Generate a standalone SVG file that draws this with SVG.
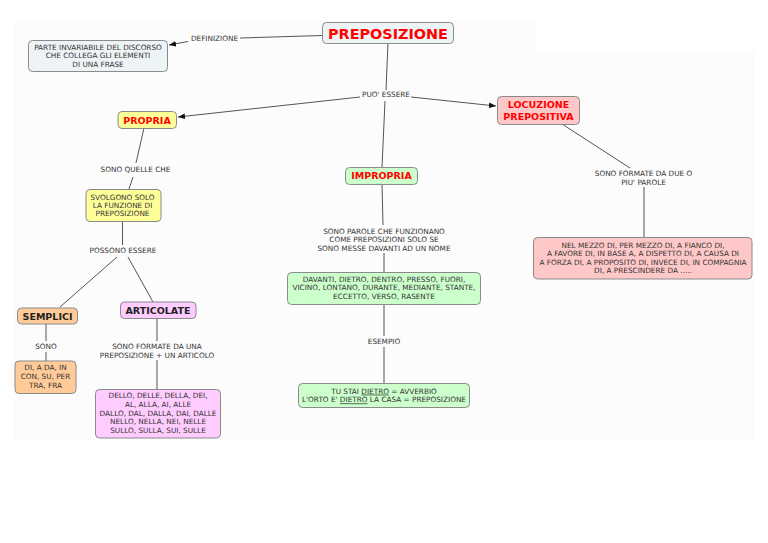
<svg xmlns="http://www.w3.org/2000/svg" width="768" height="543" viewBox="0 0 768 543">
<defs>
<marker id="arr" viewBox="0 0 10 10" refX="10" refY="5" markerWidth="7" markerHeight="7" orient="auto" markerUnits="userSpaceOnUse"><path d="M0,1 L10,5 L0,9 z" fill="#111"/></marker>
<style>
.bg{fill:#fcfcfc}
.box{stroke:#8a8a8a;stroke-width:1}
.t{font-family:"DejaVu Sans",Verdana,sans-serif;font-size:7.3px;fill:#333;text-anchor:middle}
.h{font-family:"DejaVu Sans",Verdana,sans-serif;font-weight:bold;font-size:9.5px;fill:#f00;text-anchor:middle}
.hd{font-family:"DejaVu Sans",Verdana,sans-serif;font-weight:bold;font-size:9.5px;fill:#222;text-anchor:middle}
.c{stroke:#555;stroke-width:1;fill:none}
.blue{fill:#eef3f6}.yel{fill:#ffff99}.pink{fill:#ffc8c8}.green{fill:#ccffcc}.orange{fill:#ffcc99}.viol{fill:#ffccff}
</style>
</defs>
<rect width="768" height="543" fill="#fff"/>
<rect class="bg" x="14" y="20" width="521" height="30"/>
<rect class="bg" x="14" y="50" width="740" height="390"/>

<g id="connectors">
<line class="c" x1="322" y1="35.5" x2="240" y2="38"/>
<line class="c" x1="188" y1="41.5" x2="169" y2="45" marker-end="url(#arr)"/>
<line class="c" x1="388" y1="43" x2="386" y2="90"/>
<line class="c" x1="360" y1="97" x2="178" y2="117" marker-end="url(#arr)"/>
<line class="c" x1="411" y1="97" x2="496" y2="106" marker-end="url(#arr)"/>
<line class="c" x1="385" y1="101" x2="382" y2="167"/>
<line class="c" x1="144" y1="128" x2="136" y2="163"/>
<line class="c" x1="133" y1="177" x2="129" y2="189"/>
<line class="c" x1="122.5" y1="222" x2="122.5" y2="245"/>
<line class="c" x1="117" y1="257" x2="60" y2="307"/>
<line class="c" x1="128" y1="257" x2="153" y2="302"/>
<line class="c" x1="46" y1="324" x2="46" y2="341"/>
<line class="c" x1="46" y1="352" x2="46" y2="361"/>
<line class="c" x1="157" y1="318" x2="157" y2="341"/>
<line class="c" x1="157" y1="360" x2="157" y2="389"/>
<line class="c" x1="382" y1="184" x2="383" y2="225"/>
<line class="c" x1="384" y1="253" x2="384" y2="272"/>
<line class="c" x1="384" y1="305" x2="384" y2="336"/>
<line class="c" x1="384" y1="347" x2="384" y2="383"/>
<line class="c" x1="562" y1="124" x2="630" y2="168"/>
<line class="c" x1="644" y1="187" x2="644" y2="237"/>
<text class="t" x="214.5" y="40.6">DEFINIZIONE</text>
<text class="t" x="386" y="97.2">PUO' ESSERE</text>
<text class="t" x="135.5" y="172">SONO QUELLE CHE</text>
<text class="t" x="123" y="253.3">POSSONO ESSERE</text>
<text class="t" x="46" y="348.6">SONO</text>
<text class="t" x="157" y="349.3">SONO FORMATE DA UNA</text>
<text class="t" x="157" y="358">PREPOSIZIONE + UN ARTICOLO</text>
<text class="t" x="384" y="233.6">SONO PAROLE CHE FUNZIONANO</text>
<text class="t" x="384" y="242.3">COME PREPOSIZIONI SOLO SE</text>
<text class="t" x="384" y="251">SONO MESSE DAVANTI AD UN NOME</text>
<text class="t" x="384" y="344.3">ESEMPIO</text>
<text class="t" x="643.5" y="176">SONO FORMATE DA DUE O</text>
<text class="t" x="643.5" y="185">PIU' PAROLE</text>
</g>

<g id="preposizione">
<rect class="box blue" x="322.5" y="22.5" width="131" height="21" rx="4"/>
<text class="h" x="388" y="38.6" style="font-size:14.4px">PREPOSIZIONE</text>
</g>
<g id="definizione">
<rect class="box blue" x="28.5" y="40.5" width="139" height="31" rx="4"/>
<text class="t" x="98" y="50">PARTE INVARIABILE DEL DISCORSO</text>
<text class="t" x="98" y="58.4">CHE COLLEGA GLI ELEMENTI</text>
<text class="t" x="98" y="66.8">DI UNA FRASE</text>
</g>
<g id="propria">
<rect class="box yel" x="118" y="111.5" width="58.5" height="17" rx="4"/>
<text class="h" x="147" y="123.5">PROPRIA</text>
</g>
<g id="locuzione">
<rect class="box pink" x="497.5" y="96.5" width="82" height="28" rx="4"/>
<text class="h" x="538.5" y="107.6">LOCUZIONE</text>
<text class="h" x="538.5" y="119.6">PREPOSITIVA</text>
</g>
<g id="impropria">
<rect class="box green" x="345.5" y="167.5" width="72" height="17" rx="4"/>
<text class="h" x="381.5" y="179.3">IMPROPRIA</text>
</g>
<g id="svolgono">
<rect class="box yel" x="86" y="189.5" width="75" height="32" rx="4"/>
<text class="t" x="122.5" y="199.5">SVOLGONO SOLO</text>
<text class="t" x="122.5" y="207.9">LA FUNZIONE DI</text>
<text class="t" x="122.5" y="216.3">PREPOSIZIONE</text>
</g>
<g id="semplici">
<rect class="box orange" x="17.5" y="308" width="60" height="16" rx="4"/>
<text class="hd" x="47.5" y="319.5">SEMPLICI</text>
</g>
<g id="articolate">
<rect class="box viol" x="120.5" y="302" width="75.5" height="16.5" rx="4"/>
<text class="hd" x="158" y="313.8">ARTICOLATE</text>
</g>
<g id="di">
<rect class="box orange" x="15" y="361" width="61" height="32.5" rx="4"/>
<text class="t" x="45.5" y="370.3">DI, A DA, IN</text>
<text class="t" x="45.5" y="379">CON, SU, PER</text>
<text class="t" x="45.5" y="387.6">TRA, FRA</text>
</g>
<g id="dello">
<rect class="box viol" x="95.5" y="389.5" width="125" height="48.5" rx="4"/>
<text class="t" x="158" y="398.3">DELLO, DELLE, DELLA, DEI,</text>
<text class="t" x="158" y="406.9">AL, ALLA, AI, ALLE</text>
<text class="t" x="158" y="415.5">DALLO, DAL, DALLA, DAI, DALLE</text>
<text class="t" x="158" y="424.1">NELLO, NELLA, NEI, NELLE</text>
<text class="t" x="158" y="432.7">SULLO, SULLA, SUI, SULLE</text>
</g>
<g id="davanti">
<rect class="box green" x="287.5" y="272.5" width="193" height="32" rx="4"/>
<text class="t" x="384" y="281.6">DAVANTI, DIETRO, DENTRO, PRESSO, FUORI,</text>
<text class="t" x="384" y="290.3">VICINO, LONTANO, DURANTE, MEDIANTE, STANTE,</text>
<text class="t" x="384" y="299">ECCETTO, VERSO, RASENTE</text>
</g>
<g id="esempio-box">
<rect class="box green" x="298.5" y="383.5" width="171" height="24" rx="4"/>
<text class="t" x="384" y="393.6">TU STAI <tspan text-decoration="underline">DIETRO</tspan> = AVVERBIO</text>
<text class="t" x="384" y="402.4">L'ORTO E' <tspan text-decoration="underline">DIETRO</tspan> LA CASA = PREPOSIZIONE</text>
</g>
<g id="nelmezzo">
<rect class="box pink" x="533.5" y="237.5" width="218.5" height="41.5" rx="4"/>
<text class="t" x="643" y="247.6">NEL MEZZO DI, PER MEZZO DI, A FIANCO DI,</text>
<text class="t" x="643" y="256.1">A FAVORE DI, IN BASE A, A DISPETTO DI, A CAUSA DI</text>
<text class="t" x="643" y="264.6">A FORZA DI, A PROPOSITO DI, INVECE DI, IN COMPAGNIA</text>
<text class="t" x="643" y="273.1">DI, A PRESCINDERE DA .....</text>
</g>
</svg>
